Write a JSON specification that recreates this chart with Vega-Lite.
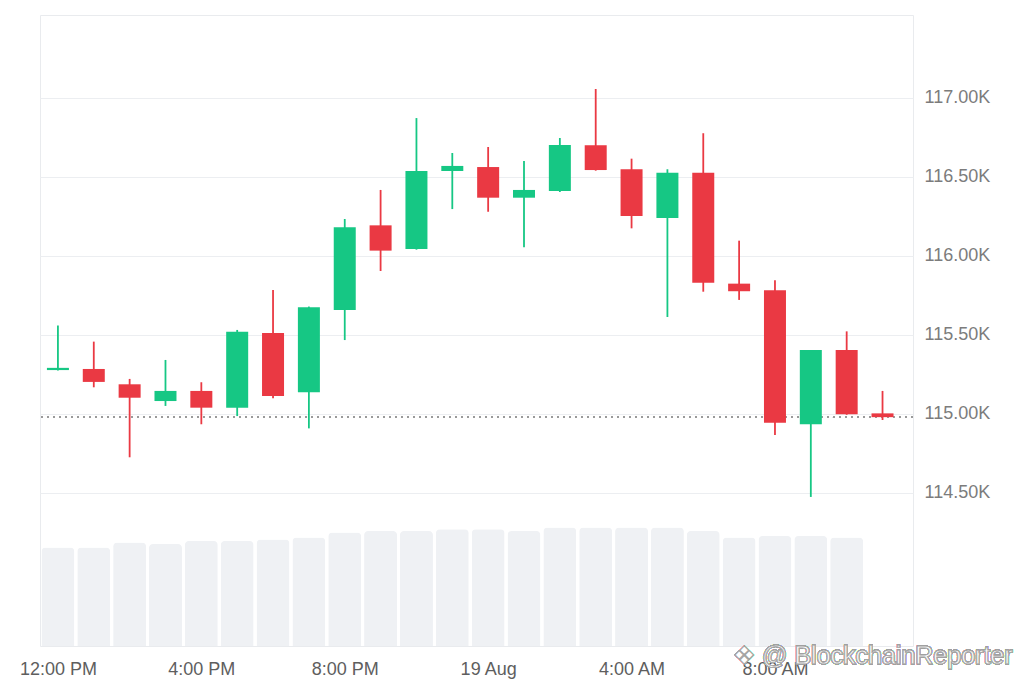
{
  "$schema": "https://vega.github.io/schema/vega-lite/v6.json",
  "width": 873,
  "height": 631,
  "autosize": "none",
  "padding": {"left": 40, "top": 15, "right": 111, "bottom": 37},
  "background": "white",
  "config": {
    "view": {"stroke": "#e9ebee", "strokeWidth": 1},
    "font": "Liberation Sans"
  },
  "data": {
    "values": [
      {"t": "2025-08-18T12:00:00Z", "o": 115278, "h": 115560, "l": 115275, "c": 115292, "v": 984},
      {"t": "2025-08-18T13:00:00Z", "o": 115285, "h": 115458, "l": 115169, "c": 115203, "v": 984},
      {"t": "2025-08-18T14:00:00Z", "o": 115188, "h": 115222, "l": 114726, "c": 115103, "v": 1034},
      {"t": "2025-08-18T15:00:00Z", "o": 115082, "h": 115342, "l": 115051, "c": 115146, "v": 1020},
      {"t": "2025-08-18T16:00:00Z", "o": 115146, "h": 115201, "l": 114935, "c": 115040, "v": 1050},
      {"t": "2025-08-18T17:00:00Z", "o": 115040, "h": 115532, "l": 114987, "c": 115521, "v": 1050},
      {"t": "2025-08-18T18:00:00Z", "o": 115513, "h": 115785, "l": 115100, "c": 115114, "v": 1064},
      {"t": "2025-08-18T19:00:00Z", "o": 115137, "h": 115680, "l": 114909, "c": 115675, "v": 1084},
      {"t": "2025-08-18T20:00:00Z", "o": 115658, "h": 116234, "l": 115468, "c": 116182, "v": 1134},
      {"t": "2025-08-18T21:00:00Z", "o": 116194, "h": 116418, "l": 115905, "c": 116034, "v": 1150},
      {"t": "2025-08-18T22:00:00Z", "o": 116044, "h": 116873, "l": 116040, "c": 116538, "v": 1150},
      {"t": "2025-08-18T23:00:00Z", "o": 116538, "h": 116652, "l": 116297, "c": 116570, "v": 1167},
      {"t": "2025-08-19T00:00:00Z", "o": 116563, "h": 116690, "l": 116280, "c": 116369, "v": 1167},
      {"t": "2025-08-19T01:00:00Z", "o": 116369, "h": 116601, "l": 116055, "c": 116418, "v": 1150},
      {"t": "2025-08-19T02:00:00Z", "o": 116411, "h": 116747, "l": 116405, "c": 116703, "v": 1184},
      {"t": "2025-08-19T03:00:00Z", "o": 116701, "h": 117057, "l": 116540, "c": 116544, "v": 1184},
      {"t": "2025-08-19T04:00:00Z", "o": 116549, "h": 116616, "l": 116175, "c": 116253, "v": 1184},
      {"t": "2025-08-19T05:00:00Z", "o": 116241, "h": 116549, "l": 115614, "c": 116527, "v": 1184},
      {"t": "2025-08-19T06:00:00Z", "o": 116527, "h": 116777, "l": 115774, "c": 115831, "v": 1150},
      {"t": "2025-08-19T07:00:00Z", "o": 115825, "h": 116097, "l": 115722, "c": 115777, "v": 1084},
      {"t": "2025-08-19T08:00:00Z", "o": 115783, "h": 115846, "l": 114867, "c": 114945, "v": 1100},
      {"t": "2025-08-19T09:00:00Z", "o": 114935, "h": 115405, "l": 114475, "c": 115405, "v": 1100},
      {"t": "2025-08-19T10:00:00Z", "o": 115405, "h": 115523, "l": 114995, "c": 114998, "v": 1084},
      {"t": "2025-08-19T11:00:00Z", "o": 115004, "h": 115146, "l": 114962, "c": 114980}
    ]
  },
  "encoding": {
    "x": {
      "field": "t",
      "type": "temporal",
      "scale": {
        "type": "utc",
        "padding": 0,
        "domain": [
          {"year": 2025, "month": 8, "date": 18, "hours": 11, "minutes": 30, "utc": true},
          {"year": 2025, "month": 8, "date": 19, "hours": 11, "minutes": 51, "utc": true}
        ]
      },
      "axis": {
        "title": null,
        "grid": false,
        "domain": false,
        "ticks": false,
        "labelPadding": 14,
        "labelFontSize": 18,
        "labelColor": "#5e5e5e",
        "labelFlush": false,
        "labelOverlap": false,
        "values": [
          {"year": 2025, "month": 8, "date": 18, "hours": 12, "utc": true},
          {"year": 2025, "month": 8, "date": 18, "hours": 16, "utc": true},
          {"year": 2025, "month": 8, "date": 18, "hours": 20, "utc": true},
          {"year": 2025, "month": 8, "date": 19, "hours": 0, "utc": true},
          {"year": 2025, "month": 8, "date": 19, "hours": 4, "utc": true},
          {"year": 2025, "month": 8, "date": 19, "hours": 8, "utc": true}
        ],
        "labelExpr": "utchours(datum.value) == 0 ? utcFormat(datum.value, '%-d %b') : utcFormat(datum.value, '%-I:%M %p')"
      }
    }
  },
  "layer": [
    {
      "mark": {"type": "bar", "size": 33, "color": "#eff1f4", "cornerRadiusTopLeft": 4, "cornerRadiusTopRight": 4},
      "encoding": {
        "y": {"field": "v", "type": "quantitative", "scale": {"domain": [0, 6310]}, "axis": null}
      }
    },
    {
      "layer": [
        {
          "mark": {"type": "rule", "color": "#9a9a9a", "strokeDash": [2, 4], "strokeWidth": 1},
          "encoding": {"y": {"datum": 114980}, "x": null}
        },
        {
          "mark": {"type": "rule", "strokeWidth": 1.8},
          "encoding": {
            "y": {
              "field": "l",
              "type": "quantitative",
              "scale": {"domain": [113531.6, 117525.3], "zero": false, "nice": false},
              "axis": {
                "title": null,
                "orient": "right",
                "domain": false,
                "ticks": false,
                "grid": true,
                "gridColor": "#eceef1",
                "gridWidth": 1,
                "labelPadding": 11,
                "labelFontSize": 18,
                "labelColor": "#7c7c7c",
                "values": [114500, 115000, 115500, 116000, 116500, 117000],
                "labelExpr": "format(datum.value / 1000, '.2f') + 'K'"
              }
            },
            "y2": {"field": "h"},
            "color": {
              "condition": {"test": "datum.c >= datum.o", "value": "#16c784"},
              "value": "#ea3943"
            }
          }
        },
        {
          "mark": {"type": "bar", "size": 22},
          "encoding": {
            "y": {"field": "o", "type": "quantitative"},
            "y2": {"field": "c"},
            "color": {
              "condition": {"test": "datum.c >= datum.o", "value": "#16c784"},
              "value": "#ea3943"
            }
          }
        },
        {
          "mark": {"type": "text", "align": "left", "baseline": "middle", "fontSize": 25, "fill": "white", "stroke": "#a0a0a0", "strokeWidth": 0.8},
          "encoding": {
            "x": {"datum": {"year": 2025, "month": 8, "date": 19, "hours": 6, "minutes": 50, "utc": true}},
            "y": {"datum": 113470},
            "text": {"value": "❖ @ BlockchainReporter"}
          }
        }
      ]
    }
  ],
  "resolve": {"scale": {"y": "independent"}}
}
